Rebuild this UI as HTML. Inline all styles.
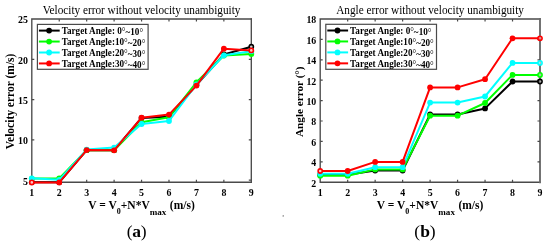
<!DOCTYPE html>
<html><head><meta charset="utf-8"><style>
html,body{margin:0;padding:0;background:#fff;width:550px;height:244px;overflow:hidden}
svg{display:block}
text{font-family:"Liberation Serif",serif;fill:#000}
.tk{font-size:9.9px;font-weight:bold}
.lb{font-size:11.5px;font-weight:bold}
.sb{font-size:9.1px}
.ti{font-size:11.25px}
.lg{font-size:9.15px;font-weight:bold}
.pl{font-size:17.5px;font-weight:bold}
.pp{font-weight:normal}
.dg{font-weight:normal}
.s0{font-size:8px}
</style></head><body>
<svg width="550" height="244" viewBox="0 0 550 244">
<path d="M251.3 19H31.8 M31.8 19V182.2 M31.8 182.2H251.3" fill="none" stroke="#4a4a4a" stroke-width="1.35" stroke-linecap="square"/>
<path d="M251.3 19V182.2" fill="none" stroke="#4a4a4a" stroke-width="1.35" stroke-linecap="square"/>
<path d="M59.24 182.2v-2.5M59.24 19v2.5M86.67 182.2v-2.5M86.67 19v2.5M114.11 182.2v-2.5M114.11 19v2.5M141.55 182.2v-2.5M141.55 19v2.5M168.99 182.2v-2.5M168.99 19v2.5M196.43 182.2v-2.5M196.43 19v2.5M223.86 182.2v-2.5M223.86 19v2.5M31.8 180.2h2.5M251.3 180.2h-2.5M31.8 139.9h2.5M251.3 139.9h-2.5M31.8 99.6h2.5M251.3 99.6h-2.5M31.8 59.3h2.5M251.3 59.3h-2.5" stroke="#4a4a4a" stroke-width="1.2" fill="none"/>
<polyline points="31.8,182.3 59.24,182.3 86.67,150.2 114.11,150.2 141.55,118 168.99,116.7 196.43,85 223.86,54.5 251.3,46.7" fill="none" stroke="#000000" stroke-width="2.0" stroke-linejoin="round"/>
<circle cx="31.8" cy="182.3" r="2.9" fill="#000000"/>
<circle cx="59.24" cy="182.3" r="2.9" fill="#000000"/>
<circle cx="86.67" cy="150.2" r="2.9" fill="#000000"/>
<circle cx="114.11" cy="150.2" r="2.9" fill="#000000"/>
<circle cx="141.55" cy="118" r="2.9" fill="#000000"/>
<circle cx="168.99" cy="116.7" r="2.9" fill="#000000"/>
<circle cx="196.43" cy="85" r="2.9" fill="#000000"/>
<circle cx="223.86" cy="54.5" r="2.9" fill="#000000"/>
<circle cx="251.3" cy="46.7" r="2.1" fill="#d0d0d0" fill-opacity="1" stroke="#000000" stroke-width="1.6"/>
<polyline points="31.8,178.6 59.24,178.4 86.67,150.2 114.11,150.2 141.55,122.3 168.99,117.3 196.43,82.3 223.86,55.5 251.3,54" fill="none" stroke="#00ff00" stroke-width="2.0" stroke-linejoin="round"/>
<circle cx="31.8" cy="178.6" r="2.9" fill="#00ff00"/>
<circle cx="59.24" cy="178.4" r="2.9" fill="#00ff00"/>
<circle cx="86.67" cy="150.2" r="2.9" fill="#00ff00"/>
<circle cx="114.11" cy="150.2" r="2.9" fill="#00ff00"/>
<circle cx="141.55" cy="122.3" r="2.9" fill="#00ff00"/>
<circle cx="168.99" cy="117.3" r="2.9" fill="#00ff00"/>
<circle cx="196.43" cy="82.3" r="2.9" fill="#00ff00"/>
<circle cx="223.86" cy="55.5" r="2.9" fill="#00ff00"/>
<circle cx="251.3" cy="54" r="2.9" fill="#00ff00"/>
<polyline points="31.8,178.3 59.24,179.8 86.67,149.6 114.11,147.6 141.55,124 168.99,121 196.43,84.5 223.86,55.3 251.3,51.2" fill="none" stroke="#00ffff" stroke-width="2.0" stroke-linejoin="round"/>
<circle cx="31.8" cy="178.3" r="2.9" fill="#00ffff"/>
<circle cx="59.24" cy="179.8" r="2.9" fill="#00ffff"/>
<circle cx="86.67" cy="149.6" r="2.9" fill="#00ffff"/>
<circle cx="114.11" cy="147.6" r="2.9" fill="#00ffff"/>
<circle cx="141.55" cy="124" r="2.9" fill="#00ffff"/>
<circle cx="168.99" cy="121" r="2.9" fill="#00ffff"/>
<circle cx="196.43" cy="84.5" r="2.9" fill="#00ffff"/>
<circle cx="223.86" cy="55.3" r="2.9" fill="#00ffff"/>
<circle cx="251.3" cy="51.2" r="2.9" fill="#00ffff"/>
<polyline points="31.8,182.4 59.24,182.4 86.67,150.1 114.11,150.3 141.55,117.7 168.99,114.6 196.43,85.6 223.86,48.7 251.3,50.4" fill="none" stroke="#ff0000" stroke-width="2.0" stroke-linejoin="round"/>
<circle cx="31.8" cy="182.4" r="2.1" fill="#ffc0c0" fill-opacity="1" stroke="#ff0000" stroke-width="1.6"/>
<circle cx="59.24" cy="182.4" r="2.9" fill="#ff0000"/>
<circle cx="86.67" cy="150.1" r="2.9" fill="#ff0000"/>
<circle cx="114.11" cy="150.3" r="2.9" fill="#ff0000"/>
<circle cx="141.55" cy="117.7" r="2.9" fill="#ff0000"/>
<circle cx="168.99" cy="114.6" r="2.9" fill="#ff0000"/>
<circle cx="196.43" cy="85.6" r="2.9" fill="#ff0000"/>
<circle cx="223.86" cy="48.7" r="2.9" fill="#ff0000"/>
<circle cx="251.3" cy="50.4" r="2.1" fill="#ffc0c0" fill-opacity="1" stroke="#ff0000" stroke-width="1.6"/>
<text x="31.8" y="196.2" class="tk" text-anchor="middle">1</text>
<text x="59.24" y="196.2" class="tk" text-anchor="middle">2</text>
<text x="86.67" y="196.2" class="tk" text-anchor="middle">3</text>
<text x="114.11" y="196.2" class="tk" text-anchor="middle">4</text>
<text x="141.55" y="196.2" class="tk" text-anchor="middle">5</text>
<text x="168.99" y="196.2" class="tk" text-anchor="middle">6</text>
<text x="196.43" y="196.2" class="tk" text-anchor="middle">7</text>
<text x="223.86" y="196.2" class="tk" text-anchor="middle">8</text>
<text x="251.3" y="196.2" class="tk" text-anchor="middle">9</text>
<text x="27.9" y="184.6" class="tk" text-anchor="end">5</text>
<text x="27.9" y="144.3" class="tk" text-anchor="end">10</text>
<text x="27.9" y="104" class="tk" text-anchor="end">15</text>
<text x="27.9" y="63.7" class="tk" text-anchor="end">20</text>
<text x="27.9" y="23.4" class="tk" text-anchor="end">25</text>
<text transform="translate(141.55 14.4) scale(1 1.08)" class="ti" text-anchor="middle">Velocity error without velocity unambiguity</text>
<text x="141.55" y="208.8" class="lb" text-anchor="middle">V = V<tspan class="s0" dy="5.5">0</tspan><tspan dy="-5.5">+N*V</tspan><tspan class="sb" dy="6.1">max</tspan><tspan dy="-6.1" dx="0.6"> (m/s)</tspan></text>
<text transform="translate(14.2 101.4) rotate(-90)" class="lb" text-anchor="middle">Velocity error (m/s)</text>
<rect x="37.4" y="24.4" width="110.7" height="44.9" fill="#fff" stroke="#4a4a4a" stroke-width="1.2"/>
<line x1="38.9" y1="30.6" x2="59.7" y2="30.6" stroke="#000000" stroke-width="2.0"/>
<circle cx="49.1" cy="30.6" r="2.9" fill="#000000"/>
<text transform="translate(61.7 34.4) scale(1 1.08)" class="lg">Target Angle: 0<tspan class="dg" dy="0.9">°</tspan><tspan dy="-0.5">~10</tspan><tspan class="dg" dy="0.9">°</tspan></text>
<line x1="38.9" y1="41.55" x2="59.7" y2="41.55" stroke="#00ff00" stroke-width="2.0"/>
<circle cx="49.1" cy="41.55" r="2.9" fill="#00ff00"/>
<text transform="translate(61.7 45.35) scale(1 1.08)" class="lg">Target Angle:10<tspan class="dg" dy="0.9">°</tspan><tspan dy="-0.5">~20</tspan><tspan class="dg" dy="0.9">°</tspan></text>
<line x1="38.9" y1="52.5" x2="59.7" y2="52.5" stroke="#00ffff" stroke-width="2.0"/>
<circle cx="49.1" cy="52.5" r="2.9" fill="#00ffff"/>
<text transform="translate(61.7 56.3) scale(1 1.08)" class="lg">Target Angle:20<tspan class="dg" dy="0.9">°</tspan><tspan dy="-0.5">~30</tspan><tspan class="dg" dy="0.9">°</tspan></text>
<line x1="38.9" y1="63.45" x2="59.7" y2="63.45" stroke="#ff0000" stroke-width="2.0"/>
<circle cx="49.1" cy="63.45" r="2.9" fill="#ff0000"/>
<text transform="translate(61.7 67.25) scale(1 1.08)" class="lg">Target Angle:30<tspan class="dg" dy="0.9">°</tspan><tspan dy="-0.5">~40</tspan><tspan class="dg" dy="0.9">°</tspan></text>
<path d="M540 19H320.2 M320.2 19V182.2 M320.2 182.2H540" fill="none" stroke="#4a4a4a" stroke-width="1.35" stroke-linecap="square"/>
<path d="M540 19V182.2" fill="none" stroke="#6c6c6c" stroke-width="1.9" stroke-linecap="square"/>
<path d="M347.68 182.2v-2.5M347.68 19v2.5M375.15 182.2v-2.5M375.15 19v2.5M402.62 182.2v-2.5M402.62 19v2.5M430.1 182.2v-2.5M430.1 19v2.5M457.57 182.2v-2.5M457.57 19v2.5M485.05 182.2v-2.5M485.05 19v2.5M512.52 182.2v-2.5M512.52 19v2.5M320.2 161.8h2.5M540 161.8h-2.5M320.2 141.4h2.5M540 141.4h-2.5M320.2 121h2.5M540 121h-2.5M320.2 100.6h2.5M540 100.6h-2.5M320.2 80.2h2.5M540 80.2h-2.5M320.2 59.8h2.5M540 59.8h-2.5M320.2 39.4h2.5M540 39.4h-2.5" stroke="#4a4a4a" stroke-width="1.2" fill="none"/>
<polyline points="320.2,174.7 347.68,174.7 375.15,170.5 402.62,170.5 430.1,114.5 457.57,114.5 485.05,108.4 512.52,81.5 540,81.5" fill="none" stroke="#000000" stroke-width="2.0" stroke-linejoin="round"/>
<circle cx="320.2" cy="174.7" r="2.9" fill="#000000"/>
<circle cx="347.68" cy="174.7" r="2.9" fill="#000000"/>
<circle cx="375.15" cy="170.5" r="2.9" fill="#000000"/>
<circle cx="402.62" cy="170.5" r="2.9" fill="#000000"/>
<circle cx="430.1" cy="114.5" r="2.9" fill="#000000"/>
<circle cx="457.57" cy="114.5" r="2.9" fill="#000000"/>
<circle cx="485.05" cy="108.4" r="2.9" fill="#000000"/>
<circle cx="512.52" cy="81.5" r="2.9" fill="#000000"/>
<circle cx="540" cy="81.5" r="2.1" fill="#d0d0d0" fill-opacity="0.6" stroke="#000000" stroke-width="1.6"/>
<polyline points="320.2,175.7 347.68,175.7 375.15,169.4 402.62,169.4 430.1,115.7 457.57,115.7 485.05,103 512.52,74.9 540,74.9" fill="none" stroke="#00ff00" stroke-width="2.0" stroke-linejoin="round"/>
<circle cx="320.2" cy="175.7" r="2.9" fill="#00ff00"/>
<circle cx="347.68" cy="175.7" r="2.9" fill="#00ff00"/>
<circle cx="375.15" cy="169.4" r="2.9" fill="#00ff00"/>
<circle cx="402.62" cy="169.4" r="2.9" fill="#00ff00"/>
<circle cx="430.1" cy="115.7" r="2.9" fill="#00ff00"/>
<circle cx="457.57" cy="115.7" r="2.9" fill="#00ff00"/>
<circle cx="485.05" cy="103" r="2.9" fill="#00ff00"/>
<circle cx="512.52" cy="74.9" r="2.9" fill="#00ff00"/>
<circle cx="540" cy="74.9" r="2.1" fill="#c0ffc0" fill-opacity="0.6" stroke="#00ff00" stroke-width="1.6"/>
<polyline points="320.2,173.8 347.68,173.8 375.15,167.2 402.62,167.2 430.1,102.6 457.57,102.6 485.05,96.5 512.52,62.9 540,62.9" fill="none" stroke="#00ffff" stroke-width="2.0" stroke-linejoin="round"/>
<circle cx="320.2" cy="173.8" r="2.9" fill="#00ffff"/>
<circle cx="347.68" cy="173.8" r="2.9" fill="#00ffff"/>
<circle cx="375.15" cy="167.2" r="2.9" fill="#00ffff"/>
<circle cx="402.62" cy="167.2" r="2.9" fill="#00ffff"/>
<circle cx="430.1" cy="102.6" r="2.9" fill="#00ffff"/>
<circle cx="457.57" cy="102.6" r="2.9" fill="#00ffff"/>
<circle cx="485.05" cy="96.5" r="2.9" fill="#00ffff"/>
<circle cx="512.52" cy="62.9" r="2.9" fill="#00ffff"/>
<circle cx="540" cy="62.9" r="2.1" fill="#c8ffff" fill-opacity="0.6" stroke="#00ffff" stroke-width="1.6"/>
<polyline points="320.2,171 347.68,171 375.15,161.9 402.62,161.9 430.1,87.4 457.57,87.4 485.05,79.2 512.52,38.3 540,38.3" fill="none" stroke="#ff0000" stroke-width="2.0" stroke-linejoin="round"/>
<circle cx="320.2" cy="171" r="2.1" fill="#ffc0c0" fill-opacity="1" stroke="#ff0000" stroke-width="1.6"/>
<circle cx="347.68" cy="171" r="2.9" fill="#ff0000"/>
<circle cx="375.15" cy="161.9" r="2.9" fill="#ff0000"/>
<circle cx="402.62" cy="161.9" r="2.9" fill="#ff0000"/>
<circle cx="430.1" cy="87.4" r="2.9" fill="#ff0000"/>
<circle cx="457.57" cy="87.4" r="2.9" fill="#ff0000"/>
<circle cx="485.05" cy="79.2" r="2.9" fill="#ff0000"/>
<circle cx="512.52" cy="38.3" r="2.9" fill="#ff0000"/>
<circle cx="540" cy="38.3" r="2.1" fill="#ffc0c0" fill-opacity="0.6" stroke="#ff0000" stroke-width="1.6"/>
<text x="320.2" y="196.2" class="tk" text-anchor="middle">1</text>
<text x="347.68" y="196.2" class="tk" text-anchor="middle">2</text>
<text x="375.15" y="196.2" class="tk" text-anchor="middle">3</text>
<text x="402.62" y="196.2" class="tk" text-anchor="middle">4</text>
<text x="430.1" y="196.2" class="tk" text-anchor="middle">5</text>
<text x="457.57" y="196.2" class="tk" text-anchor="middle">6</text>
<text x="485.05" y="196.2" class="tk" text-anchor="middle">7</text>
<text x="512.52" y="196.2" class="tk" text-anchor="middle">8</text>
<text x="540" y="196.2" class="tk" text-anchor="middle">9</text>
<text x="316.3" y="186.6" class="tk" text-anchor="end">2</text>
<text x="316.3" y="166.2" class="tk" text-anchor="end">4</text>
<text x="316.3" y="145.8" class="tk" text-anchor="end">6</text>
<text x="316.3" y="125.4" class="tk" text-anchor="end">8</text>
<text x="316.3" y="105" class="tk" text-anchor="end">10</text>
<text x="316.3" y="84.6" class="tk" text-anchor="end">12</text>
<text x="316.3" y="64.2" class="tk" text-anchor="end">14</text>
<text x="316.3" y="43.8" class="tk" text-anchor="end">16</text>
<text x="316.3" y="23.4" class="tk" text-anchor="end">18</text>
<text transform="translate(430.1 14.4) scale(1 1.08)" class="ti" text-anchor="middle">Angle error without velocity unambiguity</text>
<text x="430.1" y="208.8" class="lb" text-anchor="middle">V = V<tspan class="s0" dy="5.5">0</tspan><tspan dy="-5.5">+N*V</tspan><tspan class="sb" dy="6.1">max</tspan><tspan dy="-6.1" dx="0.6"> (m/s)</tspan></text>
<text transform="translate(302.9 101.7) rotate(-90)" class="lb" text-anchor="middle" style="font-size:11.2px">Angle error (°)</text>
<rect x="325.8" y="24.3" width="110.7" height="45" fill="#fff" stroke="#4a4a4a" stroke-width="1.2"/>
<line x1="327.3" y1="30.5" x2="348.1" y2="30.5" stroke="#000000" stroke-width="2.0"/>
<circle cx="337.5" cy="30.5" r="2.9" fill="#000000"/>
<text transform="translate(350.1 34.3) scale(1 1.08)" class="lg">Target Angle: 0<tspan class="dg" dy="0.9">°</tspan><tspan dy="-0.5">~10</tspan><tspan class="dg" dy="0.9">°</tspan></text>
<line x1="327.3" y1="41.45" x2="348.1" y2="41.45" stroke="#00ff00" stroke-width="2.0"/>
<circle cx="337.5" cy="41.45" r="2.9" fill="#00ff00"/>
<text transform="translate(350.1 45.25) scale(1 1.08)" class="lg">Target Angle:10<tspan class="dg" dy="0.9">°</tspan><tspan dy="-0.5">~20</tspan><tspan class="dg" dy="0.9">°</tspan></text>
<line x1="327.3" y1="52.4" x2="348.1" y2="52.4" stroke="#00ffff" stroke-width="2.0"/>
<circle cx="337.5" cy="52.4" r="2.9" fill="#00ffff"/>
<text transform="translate(350.1 56.2) scale(1 1.08)" class="lg">Target Angle:20<tspan class="dg" dy="0.9">°</tspan><tspan dy="-0.5">~30</tspan><tspan class="dg" dy="0.9">°</tspan></text>
<line x1="327.3" y1="63.35" x2="348.1" y2="63.35" stroke="#ff0000" stroke-width="2.0"/>
<circle cx="337.5" cy="63.35" r="2.9" fill="#ff0000"/>
<text transform="translate(350.1 67.15) scale(1 1.08)" class="lg">Target Angle:30<tspan class="dg" dy="0.9">°</tspan><tspan dy="-0.5">~40</tspan><tspan class="dg" dy="0.9">°</tspan></text>
<text x="136.6" y="236.8" class="pl" text-anchor="middle" style="letter-spacing:-0.3px"><tspan class="pp">(</tspan>a<tspan class="pp">)</tspan></text>
<text x="425.0" y="236.8" class="pl" text-anchor="middle"><tspan class="pp">(</tspan>b<tspan class="pp">)</tspan></text>
<circle cx="283.2" cy="215.9" r="0.7" fill="#555"/>
</svg>
</body></html>
